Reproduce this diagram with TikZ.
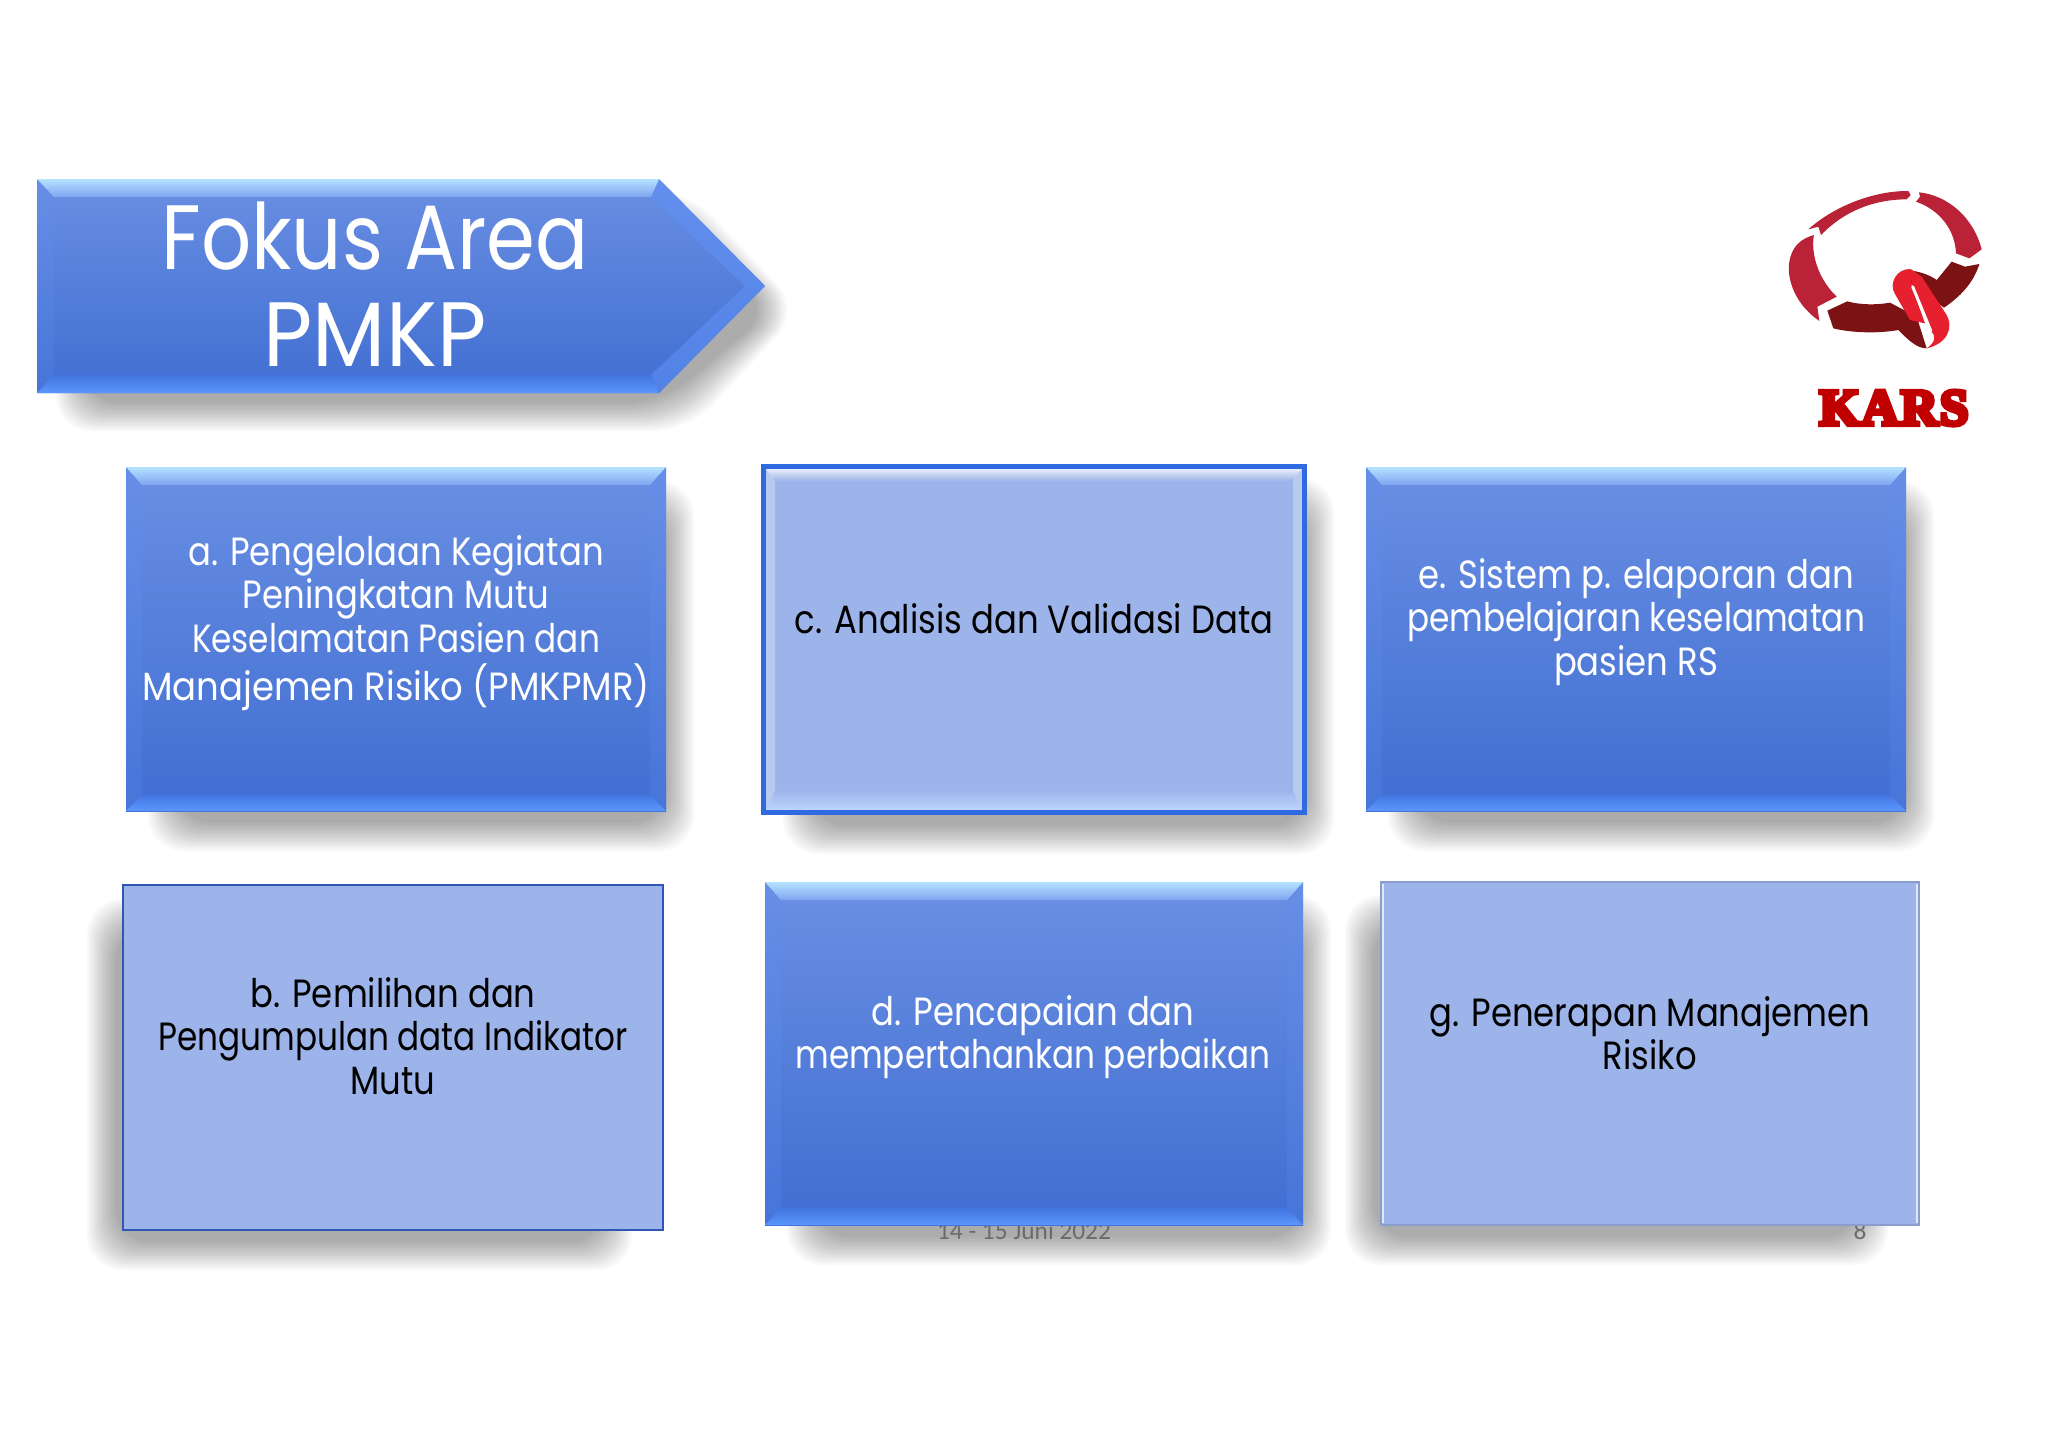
\documentclass[tikz,border=0pt]{standalone}
\usepackage{fontspec}
\setmainfont{Poppins}[FakeStretch=0.86]
\newfontfamily\stNarrow{Poppins}[FakeStretch=0.83]
\newfontfamily\stWide{Poppins}[FakeStretch=0.90]
\newfontfamily\stCaps{Poppins}[FakeStretch=0.93]
\newfontfamily\footfont{Carlito}
\font\karsfont="Liberation Serif/B:embolden=9;letterspace=4" at 14.6pt
\usetikzlibrary{calc}
\definecolor{mainTop}{HTML}{6A8FE3}
\definecolor{mainMid}{HTML}{5580E2}
\definecolor{mainBot}{HTML}{406ED1}
\definecolor{paleBox}{HTML}{9CB4E9}
\definecolor{bevTopA}{HTML}{B5E2FF}
\definecolor{bevTopB}{HTML}{7FA4F0}
\definecolor{bevBotA}{HTML}{4374DE}
\definecolor{bevBotB}{HTML}{5B96FF}
\definecolor{bevSide}{HTML}{5F90F5}
\definecolor{borderC}{HTML}{2F6AE0}
\definecolor{borderB}{HTML}{2F55B8}
\definecolor{logoRed}{HTML}{BA2238}
\definecolor{logoDark}{HTML}{7B1214}
\definecolor{logoBright}{HTML}{E6202E}
\definecolor{karsRed}{HTML}{C00000}
\tikzset{
  x=0.01cm,y=-0.01cm,
  boxtext/.style={inner sep=0pt,align=center,font=\fontsize{11.2}{12.4}\selectfont},
  whitetext/.style={boxtext,text=white},
  blacktext/.style={boxtext,text=black},
  titletext/.style={inner sep=0pt,align=center,text=white,font=\fontsize{26}{27.6}\selectfont},
  foot/.style={inner sep=0pt,text=black!58,font=\footfont\fontsize{7.2}{8}\selectfont,anchor=base},
}
% soft shadow of a rectangle
\newcommand\softrect[4]{%
  \foreach \e in {-14,-12,...,14}{
    \fill[black,opacity=0.022,rounded corners=10] ({#1-\e},{#2-\e}) rectangle ({#3+\e},{#4+\e});
  }}
% blue bevelled box
\newcommand\bluebox[4]{%
  \shade[top color=mainTop,middle color=mainMid,bottom color=mainBot] (#1,#2) rectangle (#3,#4);
  \fill[bevSide,opacity=.22] (#1,#2) -- ({#1+16},{#2+18}) -- ({#1+16},{#4-17}) -- (#1,#4) -- cycle;
  \fill[bevSide,opacity=.22] (#3,#2) -- ({#3-16},{#2+18}) -- ({#3-16},{#4-17}) -- (#3,#4) -- cycle;
  \shade[top color=bevTopA,bottom color=bevTopB] (#1,#2) -- (#3,#2) -- ({#3-16},{#2+18}) -- ({#1+16},{#2+18}) -- cycle;
  \shade[top color=bevBotA,bottom color=bevBotB] ({#1+16},{#4-17}) -- ({#3-16},{#4-17}) -- (#3,#4) -- (#1,#4) -- cycle;
}
\begin{document}
\begin{tikzpicture}
\useasboundingbox (0,0) rectangle (2048,1447);
\fill[white] (0,0) rectangle (2048,1447);

% shadows
\foreach \e in {-14,-12,...,14}{
  \fill[black,opacity=0.022,rounded corners=10] ({70-\e},{205-\e}) -- ({675+\e},{205-\e}) -- ({787+\e},{310}) -- ({675+\e},{417+\e}) -- ({70-\e},{417+\e}) -- cycle;
}
\softrect{162}{495}{680}{837}
\softrect{797}{492}{1320}{840}
\softrect{1402}{495}{1920}{837}
\softrect{101}{913}{618}{1256}
\softrect{801}{909}{1317}{1251}
\softrect{1359}{909}{1874}{1251}

% footer, partly hidden by the boxes
\node[foot] (footdate) at (1024,1239) {14 - 15 Juni 2022};
\node[foot] (footpage) at (1860,1239) {8};

% title arrow
\shade[top color=mainTop,middle color=mainMid,bottom color=mainBot] (37,179) -- (659,179) -- (765,286) -- (659,393) -- (37,393) -- cycle;
\fill[bevSide,opacity=.22] (37,179) -- (54,197) -- (54,375) -- (37,393) -- cycle;
\fill[bevSide,opacity=.6] (659,179) -- (765,286) -- (659,393) -- (651,375) -- (745,286) -- (651,197) -- cycle;
\shade[top color=bevTopA,bottom color=bevTopB] (37,179) -- (659,179) -- (651,197) -- (54,197) -- cycle;
\shade[top color=bevBotA,bottom color=bevBotB] (54,375) -- (651,375) -- (659,393) -- (37,393) -- cycle;
\node[titletext] (title) at (375,284) {Fokus Area\\{\stCaps PMKP}};

% a
\bluebox{126}{467}{666}{811}
\node[whitetext] (ta) at (396,623) {a. Pengelolaan Kegiatan\\Peningkatan Mutu\\{\stNarrow Keselamatan Pasien dan}\\[1.3pt]{\stWide Manajemen Risiko (PMKPMR)}};

% c
\fill[paleBox] (761,464) rectangle (1307,815);
\shade[top color=white!75!paleBox,bottom color=paleBox] (766,469) -- (1302,469) -- (1293,481) -- (775,481) -- cycle;
\shade[top color=paleBox,bottom color=white!60!bevBotB] (775,790) -- (1293,790) -- (1302,810) -- (766,810) -- cycle;
\fill[white,opacity=.3] (766,469) -- (775,481) -- (775,790) -- (766,810) -- cycle;
\fill[white,opacity=.3] (1302,469) -- (1293,481) -- (1293,790) -- (1302,810) -- cycle;
\draw[line width=0.05cm,draw=borderC] (763.5,466.5) rectangle (1304.5,812.5);
\node[blacktext] (tc) at (1034,619) {c. Analisis dan Validasi Data};

% e
\bluebox{1366}{467}{1906}{811}
\node[whitetext] (te) at (1636,622) {e. Sistem p. elaporan dan\\{\stNarrow pembelajaran keselamatan}\\pasien RS};

% b
\fill[paleBox] (123,885) rectangle (663,1230);
\draw[line width=0.025cm,draw=borderB] (123,885) rectangle (663,1230);
\node[blacktext] (tb) at (393,1036) {b. Pemilihan dan\\{\stNarrow Pengumpulan data Indikator}\\Mutu};

% d
\bluebox{765}{882}{1303}{1225}
\node[whitetext] (td) at (1033,1037) {d. Pencapaian dan\\{\stNarrow mempertahankan perbaikan}};

% g
\fill[paleBox] (1381,882) rectangle (1919,1225);
\draw[line width=0.02cm,draw=white!70!paleBox] (1383,884) -- (1383,1223);
\draw[line width=0.02cm,draw=white!70!paleBox] (1917,884) -- (1917,1223);
\draw[line width=0.015cm,draw=black!12!paleBox] (1381,882) rectangle (1919,1225);
\node[blacktext] (tg) at (1650,1033) {g. Penerapan Manajemen\\Risiko};

% logo
\begin{scope}[shift={(1740,160)},xscale=1/3,yscale=1/3]
\fill[logoRed] (205,208) .. controls (280,140) and (400,92) .. (505,93) -- (512,105) -- (500,118) .. controls (400,118) and (310,155) .. (243,225) -- (235,200) -- cycle;
\fill[logoRed] (537,97) .. controls (620,105) and (700,170) .. (725,268) -- (688,295) -- (648,280) .. controls (645,210) and (600,150) .. (528,125) -- (540,110) -- cycle;
\fill[logoRed] (222,225) .. controls (215,255) and (218,340) .. (290,410) -- (232,440) -- (238,483) .. controls (160,430) and (130,340) .. (155,280) .. controls (165,255) and (185,235) .. (222,225) -- cycle;
\fill[logoDark] (262,452) -- (322,424) .. controls (360,435) and (410,435) .. (450,428) -- (530,470) -- (560,565) .. controls (530,565) and (505,540) .. (475,510) .. controls (420,520) and (340,520) .. (280,505) -- cycle;
\fill[logoDark] (505,330) .. controls (540,335) and (570,345) .. (590,360) -- (635,305) -- (675,320) -- (718,312) .. controls (700,370) and (660,410) .. (612,443) -- (510,370) -- cycle;
\fill[logoBright] (512,327) .. controls (470,325) and (445,370) .. (465,402) -- (510,480) -- (555,490) -- (515,378) -- cycle;
\fill[logoBright] (512,327) -- (545,350) -- (620,465) .. controls (640,500) and (625,550) .. (560,565) .. controls (590,545) and (585,525) .. (575,515) -- (515,378) -- cycle;
\draw[white,line width=0.03cm,line cap=round] (518,380) -- (572,512);
\end{scope}
\node[inner sep=0pt,text=karsRed,font=\karsfont] (kars) at (1894,408) {KARS};
\end{tikzpicture}
\end{document}
